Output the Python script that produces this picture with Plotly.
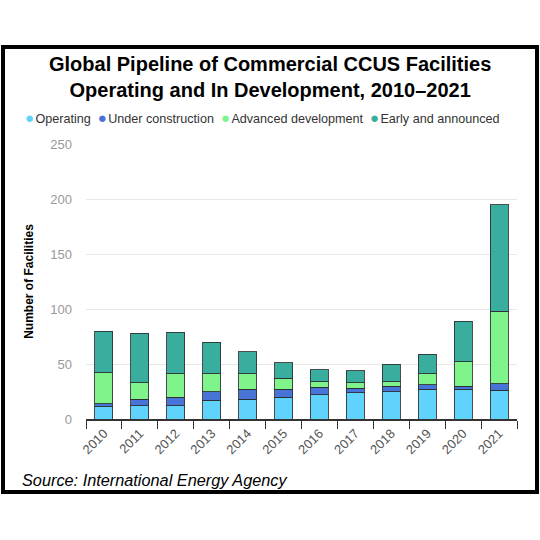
import plotly.graph_objects as go

# 数据
years = ['2010', '2011', '2012', '2013', '2014', '2015',
         '2016', '2017', '2018', '2019', '2020', '2021']
operating = [11, 12, 12, 17, 18, 20, 22, 24, 25, 27, 27, 26]
under_construction = [3, 6, 8, 8, 9, 7, 7, 4, 5, 4, 3, 6]
advanced = [28, 15, 21, 16, 14, 10, 5, 5, 4, 10, 22, 66]
early = [38, 45, 38, 29, 20, 14, 11, 11, 16, 18, 37, 97]

names = ['Operating', 'Under construction', 'Advanced development', 'Early and announced']
colors = ['#5fd3fb', '#4874d8', '#7ef48b', '#39ae9e']
series = [operating, under_construction, advanced, early]

# 绘图区像素位置
L, R, T, B = 86, 517, 144, 419
W, H = R - L, B - T


def px_x(v):
    return (v - L) / W


def px_y(v):
    return (B - v) / H


fig = go.Figure()
for name, color, vals in zip(names, colors, series):
    fig.add_trace(go.Bar(x=years, y=vals, name=name, showlegend=False,
                         marker=dict(color=color,
                                     line=dict(color='rgba(45,45,45,0.85)', width=1))))

# 图例用一行带圆点的文字
legend_text = '  '.join(
    f"<span style='color:{c};font-size:15px'>●</span><span style='font-size:5px'> </span>{n}"
    for n, c in zip(names, colors))

fig.update_layout(
    width=540, height=540,
    margin=dict(l=L, r=540 - R, t=T, b=540 - B),
    paper_bgcolor='white', plot_bgcolor='white',
    barmode='stack', bargap=0.5,
    font=dict(family='Arial, Liberation Sans, sans-serif'),
    xaxis=dict(type='category', tickangle=-45, tickson='boundaries',
               ticks='outside', ticklen=8, tickcolor='#333', automargin=False,
               showline=True, linecolor='#333', linewidth=1.5,
               tickfont=dict(size=13, color='#555'), showgrid=False),
    yaxis=dict(range=[0, 250], dtick=50, showgrid=True, gridcolor='#e8e8e8',
               zeroline=False, tickfont=dict(size=13, color='#999'),
               ticklabelstandoff=13, automargin=False,
               title=dict(text='<b>Number of Facilities</b>', standoff=14,
                          font=dict(size=12, color='black'))),
    annotations=[
        dict(text='<b>Global Pipeline of Commercial CCUS Facilities<br>'
                  'Operating and In Development, 2010\u20132021</b>',
             x=px_x(270), y=px_y(77), xref='paper', yref='paper',
             xanchor='center', yanchor='middle', showarrow=False,
             font=dict(size=20, color='black')),
        dict(text=legend_text, x=px_x(262), y=px_y(117), xref='paper',
             yref='paper', xanchor='center', yanchor='middle', showarrow=False,
             font=dict(size=12.6, color='#333')),
        dict(text='<i>Source: International Energy Agency</i>',
             x=px_x(20), y=px_y(480), xref='paper', yref='paper',
             xanchor='left', yanchor='middle', showarrow=False,
             font=dict(size=16.3, color='black')),
    ],
    shapes=[dict(type='rect', xref='paper', yref='paper',
                 x0=px_x(3), x1=px_x(537), y0=px_y(492), y1=px_y(47),
                 line=dict(color='black', width=4))],
)

fig.write_html('out.html', config={'displayModeBar': False},
               post_script="document.body.style.margin='0';")
